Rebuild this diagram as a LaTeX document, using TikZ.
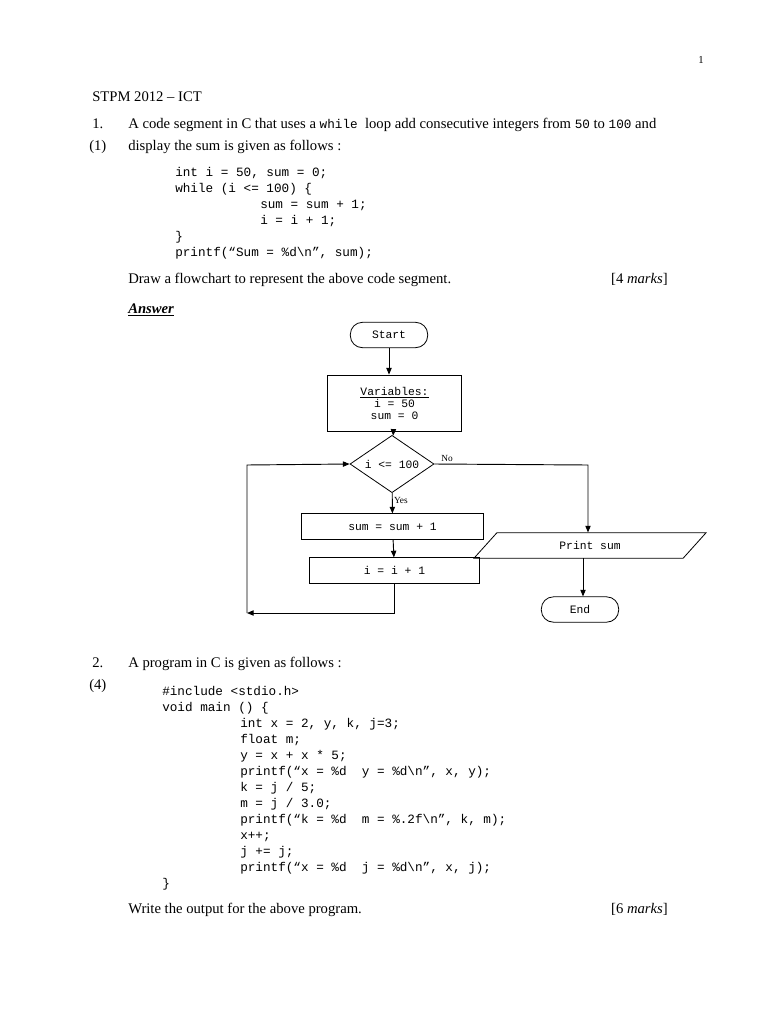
\documentclass[tikz,border=0pt]{standalone}
\usepackage{fontspec}
\setmainfont{Liberation Serif}
\setmonofont{Liberation Mono}
\usetikzlibrary{shapes.geometric,arrows.meta}
\begin{document}
\begin{tikzpicture}[x=0.75pt,y=-0.75pt,
  txt/.style={anchor=base west,inner sep=0,font=\fontsize{11}{13}\selectfont},
  code/.style={anchor=base west,inner sep=0,font=\ttfamily\fontsize{9.5}{12}\selectfont},
  fc/.style={draw,line width=0.6pt,font=\ttfamily\fontsize{8.5}{10}\selectfont},
  term/.style={fc,rounded corners=9pt,minimum width=78\pgflinewidth,inner sep=0},
  arr/.style={-{Triangle[length=5pt,width=4pt]},line width=0.7pt},
  lbl/.style={inner sep=0,font=\fontsize{7}{8}\selectfont}]
\useasboundingbox (0,0) rectangle (768,1024);
\fill[white] (0,0) rectangle (768,1024);
\node[anchor=base east,inner sep=0,font=\fontsize{8}{9}\selectfont] (pg) at (704,64) {1};
\node[txt] (hd) at (92,101) {STPM 2012 – ICT};
\node[txt] (q1) at (92,128) {1.};
\node[txt] (q1b) at (89,150) {(1)};
\node[txt] (t1) at (128,128) {A code segment in C that uses a {\ttfamily\fontsize{9.5}{11}\selectfont while}\ \ loop add consecutive integers from {\ttfamily\fontsize{9.5}{11}\selectfont 50} to {\ttfamily\fontsize{9.5}{11}\selectfont 100} and};
\node[txt] (t2) at (128,150) {display the sum is given as follows :};
\node[code] (c1) at (175,176) {int i = 50, sum = 0;};
\node[code] (c2) at (175,192) {while (i <= 100) \{};
\node[code] (c3) at (260,208) {sum = sum + 1;};
\node[code] (c4) at (260,224) {i = i + 1;};
\node[code] (c5) at (175,240) {\}};
\node[code] (c6) at (175,256) {printf(“Sum = \%d\textbackslash n”, sum);};
\node[txt] (t3) at (128,283) {Draw a flowchart to represent the above code segment.};
\node[anchor=base east,inner sep=0,font=\fontsize{11}{13}\selectfont] (m1) at (668,283) {[4 \textit{marks}]};
\node[txt,font=\fontsize{11}{13}\selectfont\bfseries\itshape] (ans) at (128,313) {\underline{Answer}};
% flowchart
\node[term,minimum width=58pt,minimum height=19pt] (start) at (389,335) {Start};
\node[fc,minimum width=101pt,minimum height=42pt,align=center,inner sep=1pt] (vars) at (394.5,403) {\underline{Variables:}\\[-1pt] i = 50\\[-1pt] sum = 0};
\node[fc,diamond,aspect=1.47,minimum width=63pt,minimum height=43pt,inner sep=0] (dec) at (392,464) {i <= 100};
\node[fc,minimum width=136pt,minimum height=19pt,inner sep=0] (s1) at (392.5,526.5) {sum = sum + 1};
\node[fc,minimum width=128pt,minimum height=19pt,inner sep=0] (s2) at (394.5,570.5) {i = i + 1};
\node[fc,trapezium,trapezium left angle=48,trapezium right angle=132,minimum width=142pt,minimum height=19pt,inner sep=0] (pr) at (590,545.5) {Print sum};
\node[term,minimum width=58pt,minimum height=19pt] (end) at (580,609.5) {End};
\coordinate (lb) at (247,613);
\coordinate (lt) at (247,465);
\coordinate (nr) at (588,465);
\draw[arr] (start) -- (start |- vars.north);
\draw[arr] (vars) -- (dec);
\draw[arr] (dec) -- (s1) node[lbl,pos=0.35,right=1pt] {Yes};
\draw[arr] (s1) -- (s2);
\draw[arr] (s2.south) |- (lb);
\draw[arr] (lb) -- (lt) -- (dec.west);
\draw[arr] (dec.east) -- (nr) -- (nr |- pr.north);
\node[lbl] (no) at (447,458) {No};
\draw[arr] (583,558) -- (end.north -| 583,0);
% question 2
\node[txt] (q2) at (92,667) {2.};
\node[txt] (q2b) at (89,689) {(4)};
\node[txt] (t4) at (128,667) {A program in C is given as follows :};
\node[code] (d1) at (162,695) {\#include <stdio.h>};
\node[code] (d2) at (162,711) {void main () \{};
\node[code] (d3) at (240,727) {int x = 2, y, k, j=3;};
\node[code] (d4) at (240,743) {float m;};
\node[code] (d5) at (240,759) {y = x + x * 5;};
\node[code] (d6) at (240,775) {printf(“x = \%d\ \ y = \%d\textbackslash n”, x, y);};
\node[code] (d7) at (240,791) {k = j / 5;};
\node[code] (d8) at (240,807) {m = j / 3.0;};
\node[code] (d9) at (240,823) {printf(“k = \%d\ \ m = \%.2f\textbackslash n”, k, m);};
\node[code] (d10) at (240,839) {x++;};
\node[code] (d11) at (240,855) {j += j;};
\node[code] (d12) at (240,871) {printf(“x = \%d\ \ j = \%d\textbackslash n”, x, j);};
\node[code] (d13) at (162,887) {\}};
\node[txt] (t5) at (128,913) {Write the output for the above program.};
\node[anchor=base east,inner sep=0,font=\fontsize{11}{13}\selectfont] (m2) at (668,913) {[6 \textit{marks}]};
\end{tikzpicture}
\end{document}
